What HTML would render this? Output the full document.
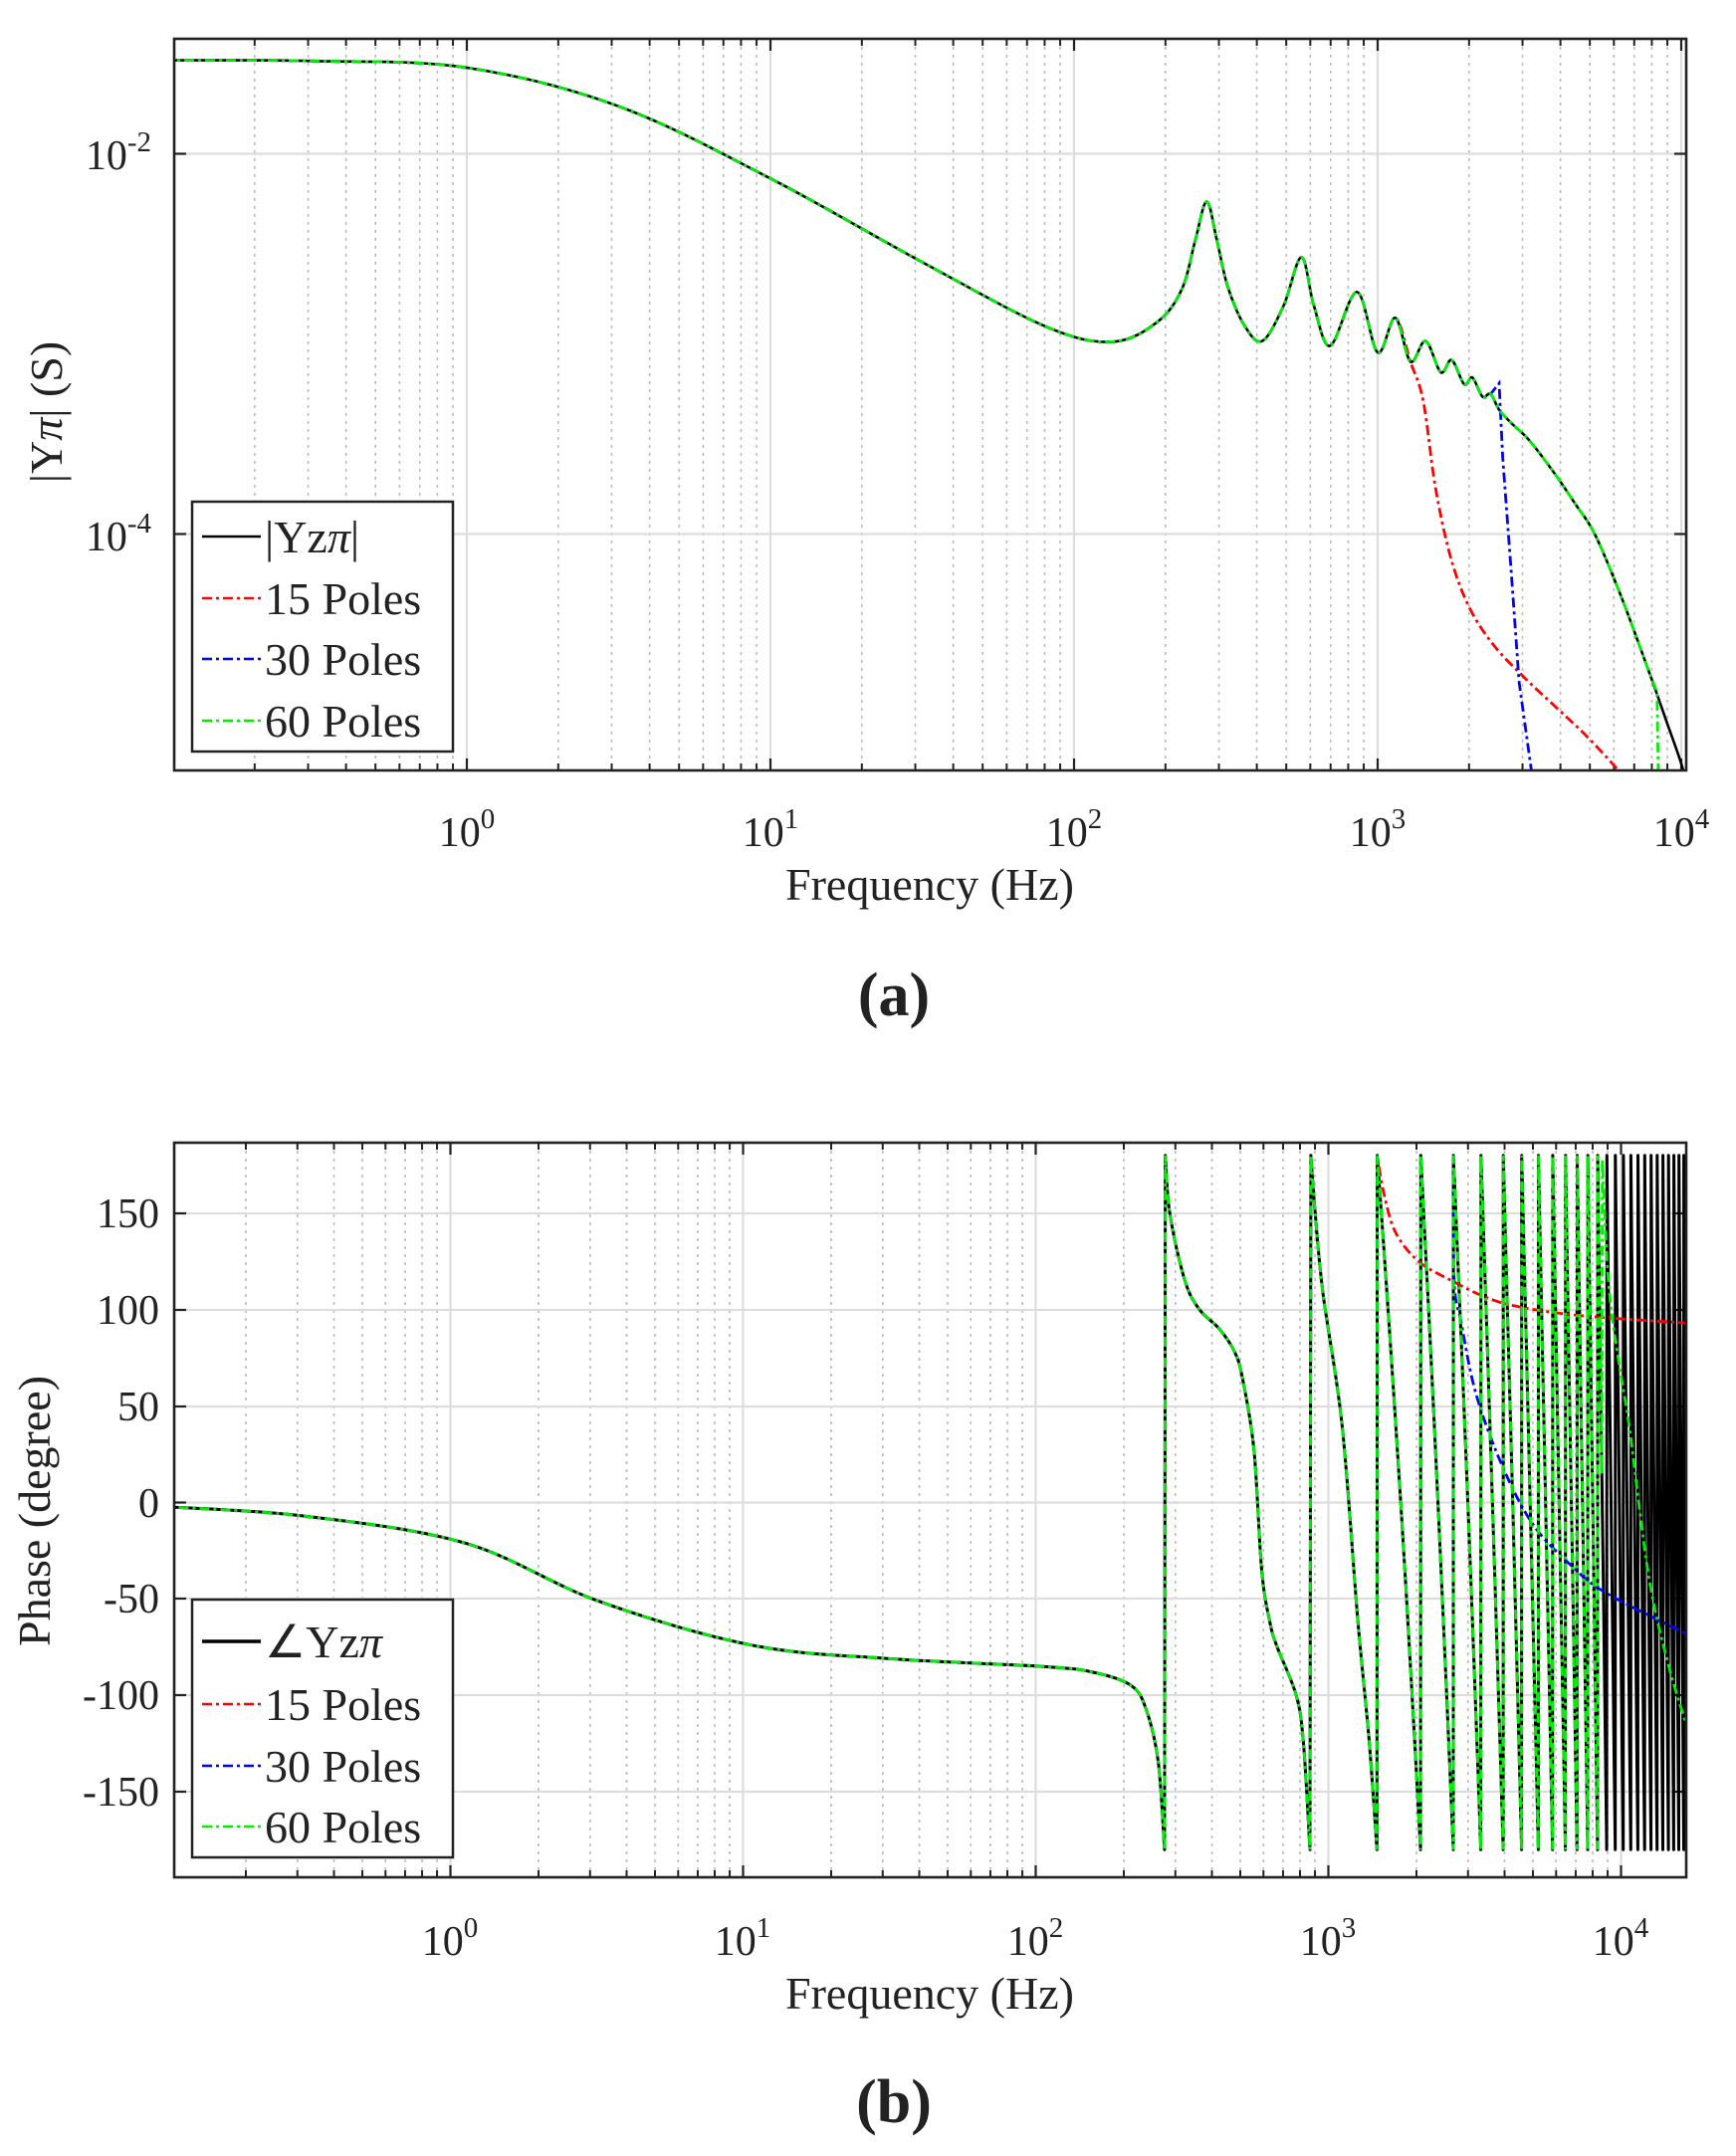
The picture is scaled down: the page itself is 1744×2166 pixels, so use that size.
<!DOCTYPE html>
<html><head><meta charset="utf-8">
<style>
html,body{margin:0;padding:0;background:#fff;}
svg{display:block;}
text{font-family:"Liberation Serif",serif;fill:#222;}
</style></head>
<body>
<svg id="s" width="1744" height="2166" viewBox="0 0 1744 2166" xmlns="http://www.w3.org/2000/svg">
<defs>
<clipPath id="ca"><rect x="175" y="39" width="1519" height="735"/></clipPath>
<clipPath id="cb"><rect x="175" y="1148" width="1519" height="738"/></clipPath>
</defs>
<g id="ga"></g>
<g id="gb"></g>
<g font-size="42">
<text x="469" y="850" text-anchor="middle">10<tspan dy="-18" font-size="29">0</tspan></text>
<text x="774" y="850" text-anchor="middle">10<tspan dy="-18" font-size="29">1</tspan></text>
<text x="1079" y="850" text-anchor="middle">10<tspan dy="-18" font-size="29">2</tspan></text>
<text x="1384" y="850" text-anchor="middle">10<tspan dy="-18" font-size="29">3</tspan></text>
<text x="1689" y="850" text-anchor="middle">10<tspan dy="-18" font-size="29">4</tspan></text>
<text x="152" y="170" text-anchor="end">10<tspan dy="-18" font-size="29">-2</tspan></text>
<text x="152" y="553" text-anchor="end">10<tspan dy="-18" font-size="29">-4</tspan></text>
</g>
<text x="934" y="904" font-size="46" text-anchor="middle">Frequency (Hz)</text>
<text transform="translate(62,414) rotate(-90)" font-size="46" text-anchor="middle">|Y<tspan font-style="italic">π</tspan>| (S)</text>
<text x="898" y="1020" font-size="62" font-weight="bold" text-anchor="middle">(a)</text>
<g font-size="42">
<text x="452" y="1964" text-anchor="middle">10<tspan dy="-18" font-size="29">0</tspan></text>
<text x="746" y="1964" text-anchor="middle">10<tspan dy="-18" font-size="29">1</tspan></text>
<text x="1040" y="1964" text-anchor="middle">10<tspan dy="-18" font-size="29">2</tspan></text>
<text x="1334" y="1964" text-anchor="middle">10<tspan dy="-18" font-size="29">3</tspan></text>
<text x="1628" y="1964" text-anchor="middle">10<tspan dy="-18" font-size="29">4</tspan></text>
<text x="160" y="1233" text-anchor="end">150</text>
<text x="160" y="1330" text-anchor="end">100</text>
<text x="160" y="1427" text-anchor="end">50</text>
<text x="160" y="1524" text-anchor="end">0</text>
<text x="160" y="1620" text-anchor="end">-50</text>
<text x="160" y="1717" text-anchor="end">-100</text>
<text x="160" y="1814" text-anchor="end">-150</text>
</g>
<text x="934" y="2018" font-size="46" text-anchor="middle">Frequency (Hz)</text>
<text transform="translate(50,1518) rotate(-90)" font-size="46" text-anchor="middle">Phase (degree)</text>
<text x="898" y="2132" font-size="62" font-weight="bold" text-anchor="middle">(b)</text>
<g>
<rect x="193" y="504" width="262" height="251" fill="#fff" stroke="#222" stroke-width="2.5"/>
<line x1="203" y1="539" x2="262" y2="539" stroke="#000" stroke-width="2.5"/>
<line x1="203" y1="601" x2="262" y2="601" stroke="#f00" stroke-width="2.5" stroke-dasharray="10 4 3 4"/>
<line x1="203" y1="662" x2="262" y2="662" stroke="#00f" stroke-width="2.5" stroke-dasharray="10 4 3 4"/>
<line x1="203" y1="724" x2="262" y2="724" stroke="#0e0" stroke-width="2.5" stroke-dasharray="10 4 3 4"/>
<g font-size="46">
<text x="266" y="555">|Yz<tspan font-style="italic">π</tspan>|</text>
<text x="266" y="617">15 Poles</text>
<text x="266" y="678">30 Poles</text>
<text x="266" y="740">60 Poles</text>
</g>
<rect x="193" y="1607" width="262" height="259" fill="#fff" stroke="#222" stroke-width="2.5"/>
<line x1="203" y1="1649" x2="262" y2="1649" stroke="#000" stroke-width="3.5"/>
<line x1="203" y1="1712" x2="262" y2="1712" stroke="#f00" stroke-width="2.5" stroke-dasharray="10 4 3 4"/>
<line x1="203" y1="1774" x2="262" y2="1774" stroke="#00f" stroke-width="2.5" stroke-dasharray="10 4 3 4"/>
<line x1="203" y1="1835" x2="262" y2="1835" stroke="#0e0" stroke-width="2.5" stroke-dasharray="10 4 3 4"/>
<g font-size="46">
<text x="266" y="1665">∠Yz<tspan font-style="italic">π</tspan></text>
<text x="266" y="1728">15 Poles</text>
<text x="266" y="1790">30 Poles</text>
<text x="266" y="1851">60 Poles</text>
</g>
</g>
</svg>
<script>
(function(){
var NS="http://www.w3.org/2000/svg";
function el(parent,tag,attrs){var e=document.createElementNS(NS,tag);for(var k in attrs)e.setAttribute(k,attrs[k]);parent.appendChild(e);return e;}
var ga=document.getElementById('ga'), gb=document.getElementById('gb');
var DASH="10 4 3 4";
function axes(g,L,R,T,B,x0,dec,yTicks){
  for(var d=-2;d<=5;d++){for(var m=2;m<=9;m++){var x=x0+dec*(d+Math.log10(m));
    if(x>L+1&&x<R-1){el(g,'line',{x1:x,x2:x,y1:T,y2:B,stroke:'#bbb','stroke-width':1.6,'stroke-dasharray':'3 5'});
      el(g,'line',{x1:x,x2:x,y1:B,y2:B-7,stroke:'#222','stroke-width':2});
      el(g,'line',{x1:x,x2:x,y1:T,y2:T+7,stroke:'#222','stroke-width':2});}}}
  for(var d=-2;d<=5;d++){var x=x0+dec*d; if(x>L+1&&x<R-1){
    el(g,'line',{x1:x,x2:x,y1:T,y2:B,stroke:'#ddd','stroke-width':2.2});
    el(g,'line',{x1:x,x2:x,y1:B,y2:B-12,stroke:'#222','stroke-width':2.2});
    el(g,'line',{x1:x,x2:x,y1:T,y2:T+12,stroke:'#222','stroke-width':2.2});}}
  yTicks.forEach(function(y){
    el(g,'line',{x1:L,x2:R,y1:y,y2:y,stroke:'#ddd','stroke-width':2.2});
    el(g,'line',{x1:L,x2:L+12,y1:y,y2:y,stroke:'#222','stroke-width':2.2});
    el(g,'line',{x1:R,x2:R-12,y1:y,y2:y,stroke:'#222','stroke-width':2.2});
  });
}
axes(ga,175,1694,39,774,469,305,[154.5,536.5]);
axes(gb,175,1694,1148,1886,452.5,294,[1219,1316,1413,1509.5,1606,1703,1800]);

function xa(l){return 469+305*l;} function ya(v){return 154.5-191*(v+2);}
function crPath(pts,fx,fy,noMove){
  var p=pts.map(function(q){return [fx(q[0]),fy(q[1])];});
  var s=(noMove?"L":"M")+p[0][0].toFixed(1)+","+p[0][1].toFixed(1);
  for(var i=0;i<p.length-1;i++){
    var p0=p[Math.max(0,i-1)],p1=p[i],p2=p[i+1],p3=p[Math.min(p.length-1,i+2)];
    var c1=[p1[0]+(p2[0]-p0[0])/6,p1[1]+(p2[1]-p0[1])/6];
    var c2=[p2[0]-(p3[0]-p1[0])/6,p2[1]-(p3[1]-p1[1])/6];
    s+="C"+c1[0].toFixed(1)+","+c1[1].toFixed(1)+" "+c2[0].toFixed(1)+","+c2[1].toFixed(1)+" "+p2[0].toFixed(1)+","+p2[1].toFixed(1);
  }
  return s;
}
var common=[[-1.0,-1.508],[-0.5,-1.512],[0,-1.547],[0.5,-1.75],[1,-2.13],[1.5,-2.57],[1.909,-2.91],[2.126,-2.989],[2.275,-2.884],[2.356,-2.709],[2.40,-2.45],[2.437,-2.252],[2.47,-2.45],[2.505,-2.692],[2.56,-2.90],[2.620,-2.985],[2.69,-2.80],[2.749,-2.544],[2.79,-2.80],[2.844,-3.010],[2.932,-2.727],[3.0,-3.045],[3.058,-2.863],[3.108,-3.093]];
var blackTail=[[3.158,-2.985],[3.208,-3.149],[3.244,-3.085],[3.285,-3.212],[3.312,-3.177],[3.345,-3.277],[3.372,-3.264],[3.400,-3.346],[3.44,-3.416],[3.502,-3.512],[3.589,-3.695],[3.65,-3.84],[3.715,-4.0],[3.80,-4.32],[3.895,-4.73],[3.95,-4.98],[4.006,-5.24],[4.02,-5.4]];
var black=common.concat(blackTail);
var red=common.concat([[3.15,-3.3],[3.19,-3.75],[3.24,-4.12],[3.30,-4.38],[3.38,-4.58],[3.48,-4.75],[3.58,-4.90],[3.68,-5.05],[3.78,-5.22],[3.83,-5.32]]);
var blueBase=common.concat(blackTail.slice(0,7));
var green=common.concat(blackTail.slice(0,15));
var ca=el(ga,'g',{'clip-path':'url(#ca)'});
el(ca,'path',{d:crPath(black,xa,ya),fill:'none',stroke:'#000','stroke-width':2.6});
el(ca,'path',{d:crPath(red,xa,ya),fill:'none',stroke:'#f00','stroke-width':2.8,'stroke-dasharray':DASH});
var bd=crPath(blueBase,xa,ya)+"L"+xa(3.40)+","+ya(-3.207)+"L"+xa(3.412)+","+ya(-3.6)+"L"+xa(3.44)+","+ya(-4.2)+"L"+xa(3.466)+","+ya(-4.78)+"L"+xa(3.52)+","+ya(-5.4);
el(ca,'path',{d:bd,fill:'none',stroke:'#00f','stroke-width':2.8,'stroke-dasharray':DASH});
var gd=crPath(green,xa,ya)+"L"+xa(3.92)+","+ya(-4.83)+"L"+xa(3.926)+","+ya(-5.4);
el(ca,'path',{d:gd,fill:'none',stroke:'#0e0','stroke-width':2.8,'stroke-dasharray':DASH});

function xb(l){return 452.5+294*l;} function yb(v){return 1509.5-1.937*v;}
function L10(f){return Math.log10(f);}
var low=[[-1.0,-2],[-0.5,-7],[0.05,-21],[0.504,-51],[1.03,-74],[1.5,-81],[2.017,-85],[2.196,-88],[2.327,-95],[2.379,-108],[2.419,-135],[2.440,-180]];
var seg0=[[2.443,180],[2.458,150],[2.510,115],[2.56,100],[2.628,90],[2.68,78],[2.707,64],[2.746,27],[2.772,-35],[2.80,-62],[2.825,-75],[2.890,-100],[2.915,-125],[2.937,-180]];
var seg1=[[2.94,180],[2.955,150],[2.982,108],[3.047,40],[3.10,-60],[3.139,-123],[3.166,-180]];
var wraps=[1467,2066,2672,3318,3955,4572,5215];
while(wraps[wraps.length-1]<17000){wraps.push(wraps[wraps.length-1]+620);}
function wrapSegs(startIdx,endF){
  var out=[];
  for(var k=startIdx;k<wraps.length-1;k++){
    var a=wraps[k],b=wraps[k+1];
    if(a>=endF)break;
    var n=8;
    for(var i=0;i<=n;i++){var f=a+(b-a)*i/n; if(f>endF){out.push([L10(endF),180-360*(endF-a)/(b-a)]);return out;}
      out.push([L10(f)+(i==0?0.0005:0),180-360*i/n]);}
  }
  return out;
}
function lin(arr){return arr.map(function(q){return "L"+xb(q[0]).toFixed(1)+","+yb(q[1]).toFixed(1);}).join("");}
var basePath=crPath(low,xb,yb)+crPath(seg0,xb,yb,true)+crPath(seg1,xb,yb,true);
var blackD=basePath+lin(wrapSegs(0,16700));
var greenD=basePath+lin(wrapSegs(0,8600))+crPath([[3.936,178],[3.957,114.6],[3.99,75],[4.029,38.5],[4.094,-37.7],[4.16,-83],[4.235,-121]],xb,yb,true);
var redD=crPath(low,xb,yb)+crPath(seg0,xb,yb,true)+crPath(seg1,xb,yb,true)+crPath([[3.167,180],[3.19,160],[3.23,140],[3.309,125],[3.427,114.6],[3.53,107],[3.636,102],[3.858,97],[4.235,93]],xb,yb,true);
var blueD=basePath+lin(wrapSegs(0,2672))+crPath([[3.4275,180],[3.43,115],[3.453,94],[3.505,56],[3.597,18],[3.702,-12],[3.832,-33],[3.95,-47],[4.235,-69]],xb,yb,true);
var cb=el(gb,'g',{'clip-path':'url(#cb)'});
el(cb,'path',{d:blackD,fill:'none',stroke:'#000','stroke-width':3,'stroke-linejoin':'round'});
el(cb,'path',{d:redD,fill:'none',stroke:'#f00','stroke-width':2.8,'stroke-dasharray':DASH});
el(cb,'path',{d:blueD,fill:'none',stroke:'#00f','stroke-width':2.8,'stroke-dasharray':DASH});
el(cb,'path',{d:greenD,fill:'none',stroke:'#0e0','stroke-width':2.8,'stroke-dasharray':DASH});

el(ga,'rect',{x:175,y:39,width:1519,height:735,fill:'none',stroke:'#222','stroke-width':2.6});
el(gb,'rect',{x:175,y:1148,width:1519,height:738,fill:'none',stroke:'#222','stroke-width':2.6});
})();
</script>
</body></html>
